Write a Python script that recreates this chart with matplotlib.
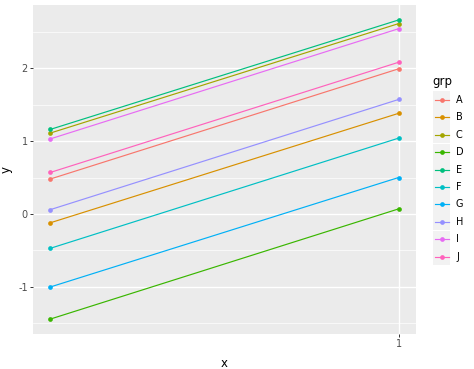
import matplotlib
matplotlib.use("Agg")
import matplotlib.pyplot as plt
from matplotlib.patches import Rectangle
from matplotlib.lines import Line2D

groups = ["A", "B", "C", "D", "E", "F", "G", "H", "I", "J"]
x_vals = [0, 1]
y_start = [0.48, -0.12, 1.11, -1.44, 1.16, -0.47, -1.00, 0.06, 1.03, 0.57]
y_end = [1.99, 1.38, 2.61, 0.07, 2.66, 1.04, 0.50, 1.57, 2.54, 2.08]
colors = ["#F8766D", "#D89000", "#A3A500", "#39B600", "#00BF7D",
          "#00BFC4", "#00B0F6", "#9590FF", "#E76BF3", "#FF62BC"]
x_ticks = [1]
x_ticklabels = ["1"]
y_ticks = [-1, 0, 1, 2]
y_minor = [-1.5, -0.5, 0.5, 1.5, 2.5]

W, H = 474, 369
fig = plt.figure(figsize=(W / 100, H / 100), dpi=100)
fig.patch.set_facecolor("white")

def fx(px):
    return px / W

def fy(py):
    return 1 - py / H

left, right, top, bottom = 33, 416, 5, 334
ax = fig.add_axes([fx(left), fy(bottom), fx(right - left), (bottom - top) / H])
ax.set_facecolor("#EBEBEB")
for s in ax.spines.values():
    s.set_visible(False)

for g, y0, y1, c in zip(groups, y_start, y_end, colors):
    ax.plot(x_vals, [y0, y1], color=c, lw=0.85, zorder=3)
    ax.plot(x_vals, [y0, y1], "o", color=c, ms=3.4, mew=0, zorder=4)

allv = y_start + y_end
ymin, ymax = min(allv), max(allv)
ex = (ymax - ymin) * 0.05
ax.set_ylim(ymin - ex, ymax + ex)
ax.set_xlim(-0.05, 1.05)

for yv in y_minor:
    ax.axhline(yv, color="white", lw=0.5, zorder=1)
for yv in y_ticks:
    ax.axhline(yv, color="white", lw=1.0, zorder=1)
for xv in x_ticks:
    ax.axvline(xv, color="white", lw=1.0, zorder=1)

ax.set_yticks(y_ticks)
ax.set_yticklabels([str(v) if v >= 0 else "-" + str(abs(v)) for v in y_ticks])
ax.set_xticks(x_ticks)
ax.set_xticklabels(x_ticklabels)
ax.tick_params(axis="both", length=2.2, width=0.7, color="#333333",
               labelcolor="#4D4D4D", labelsize=7, pad=1.5)
ax.set_xlabel("x", fontsize=8.5, color="black", labelpad=6)
ax.set_ylabel("y", fontsize=8.5, color="black", labelpad=4)

# legend
fig.text(fx(432), fy(82), "grp", fontsize=8.5, ha="left", va="center", color="black")
key_x0, key_w, key_h = 433, 17, 17.4
first_center = 100
for i, (g, c) in enumerate(zip(groups, colors)):
    cy = first_center + i * key_h
    fig.add_artist(Rectangle((fx(key_x0), fy(cy + key_h / 2)), fx(key_w), key_h / H,
                             facecolor="#F2F2F2", edgecolor="none",
                             transform=fig.transFigure))
    fig.add_artist(Line2D([fx(key_x0 + 1.5), fx(key_x0 + key_w - 1.5)], [fy(cy), fy(cy)],
                          color=c, lw=0.85, transform=fig.transFigure))
    fig.add_artist(Line2D([fx(key_x0 + key_w / 2)], [fy(cy)], marker="o", ms=3.4, mew=0,
                          color=c, transform=fig.transFigure))
    fig.text(fx(456), fy(cy), g, fontsize=7, ha="left", va="center", color="black")

fig.savefig("out.png", dpi=100)
